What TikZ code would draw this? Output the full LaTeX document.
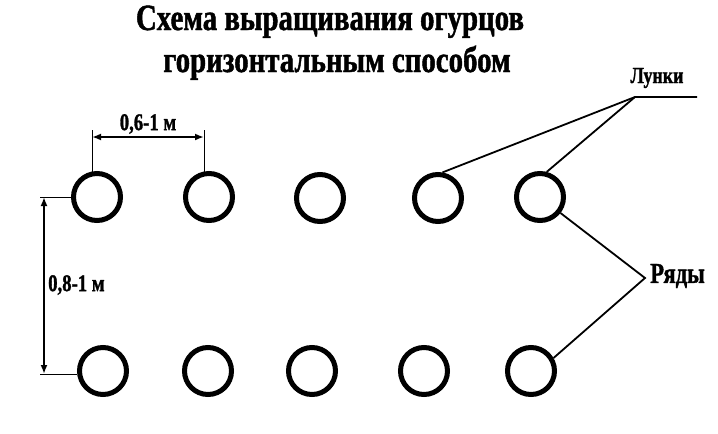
\documentclass[tikz,border=0pt]{standalone}
\usepackage{fontspec}
\setmainfont{Liberation Serif}
\newfontfamily\condfont[FakeStretch=0.78,FakeBold=1.2]{Liberation Serif}
\usetikzlibrary{arrows.meta}
\tikzset{
  hole/.style={circle, draw, line width=5pt, minimum size=47pt, inner sep=0pt},
  lead/.style={line width=1.8pt},
  dimline/.style={line width=1.8pt, {Latex[length=9pt,width=7pt]}-{Latex[length=9pt,width=7pt]}},
  extline/.style={line width=1pt},
  titletext/.style={font=\condfont\bfseries\fontsize{37}{40}\selectfont, inner sep=0pt, anchor=base},
  lbl/.style={font=\condfont\bfseries\fontsize{24}{26}\selectfont, inner sep=0pt},
}
\begin{document}
\begin{tikzpicture}[x=1pt, y=-1pt]
\useasboundingbox (0,0) rectangle (718,434);
% title
\node[titletext] (t1) at (330,30) {Схема выращивания огурцов};
\node[titletext] (t2) at (337,72) {горизонтальным способом};
% holes
\node[hole] (a1) at (97,197) {};
\node[hole] (a2) at (209,197) {};
\node[hole] (a3) at (320,198) {};
\node[hole] (a4) at (438,198) {};
\node[hole] (a5) at (540,197) {};
\node[hole] (b1) at (103,371) {};
\node[hole] (b2) at (208,371) {};
\node[hole] (b3) at (312,371) {};
\node[hole] (b4) at (424,371) {};
\node[hole] (b5) at (531,371) {};
% horizontal dimension
\coordinate (h1) at (92,130);
\coordinate (h2) at (204,130);
\coordinate (h1b) at (92,172);
\coordinate (h2b) at (204,172);
\draw[extline] (h1) -- (h1b);
\draw[extline] (h2) -- (h2b);
\draw[dimline] (92,137) -- (204,137);
\node[lbl] (d1) at (148,124) {0,6-1 м};
% vertical dimension
\coordinate (v1) at (40,197);
\coordinate (v2) at (40,374);
\draw[extline] (v1) -- (a1.west);
\draw[extline] (v2) -- (b1.west |- v2);
\draw[dimline] (44,197) -- (44,374);
\node[lbl, anchor=west] (d2) at (48,285) {0,8-1 м};
% Lunki
\node[lbl, font=\condfont\bfseries\fontsize{23}{24}\selectfont] (lunki) at (657,78) {Лунки};
\coordinate (lp) at (635,97);
\coordinate (le) at (697,97);
\draw[lead] (le) -- (lp) -- (a4.80);
\draw[lead] (lp) -- (a5.75);
% Ryady
\node[lbl, anchor=west, font=\condfont\bfseries\fontsize{29}{30}\selectfont] (ryady) at (650,276) {Ряды};
\coordinate (rp) at (645,278);
\draw[lead] (a5.-38) -- (rp) -- (b5.30);
\end{tikzpicture}
\end{document}
